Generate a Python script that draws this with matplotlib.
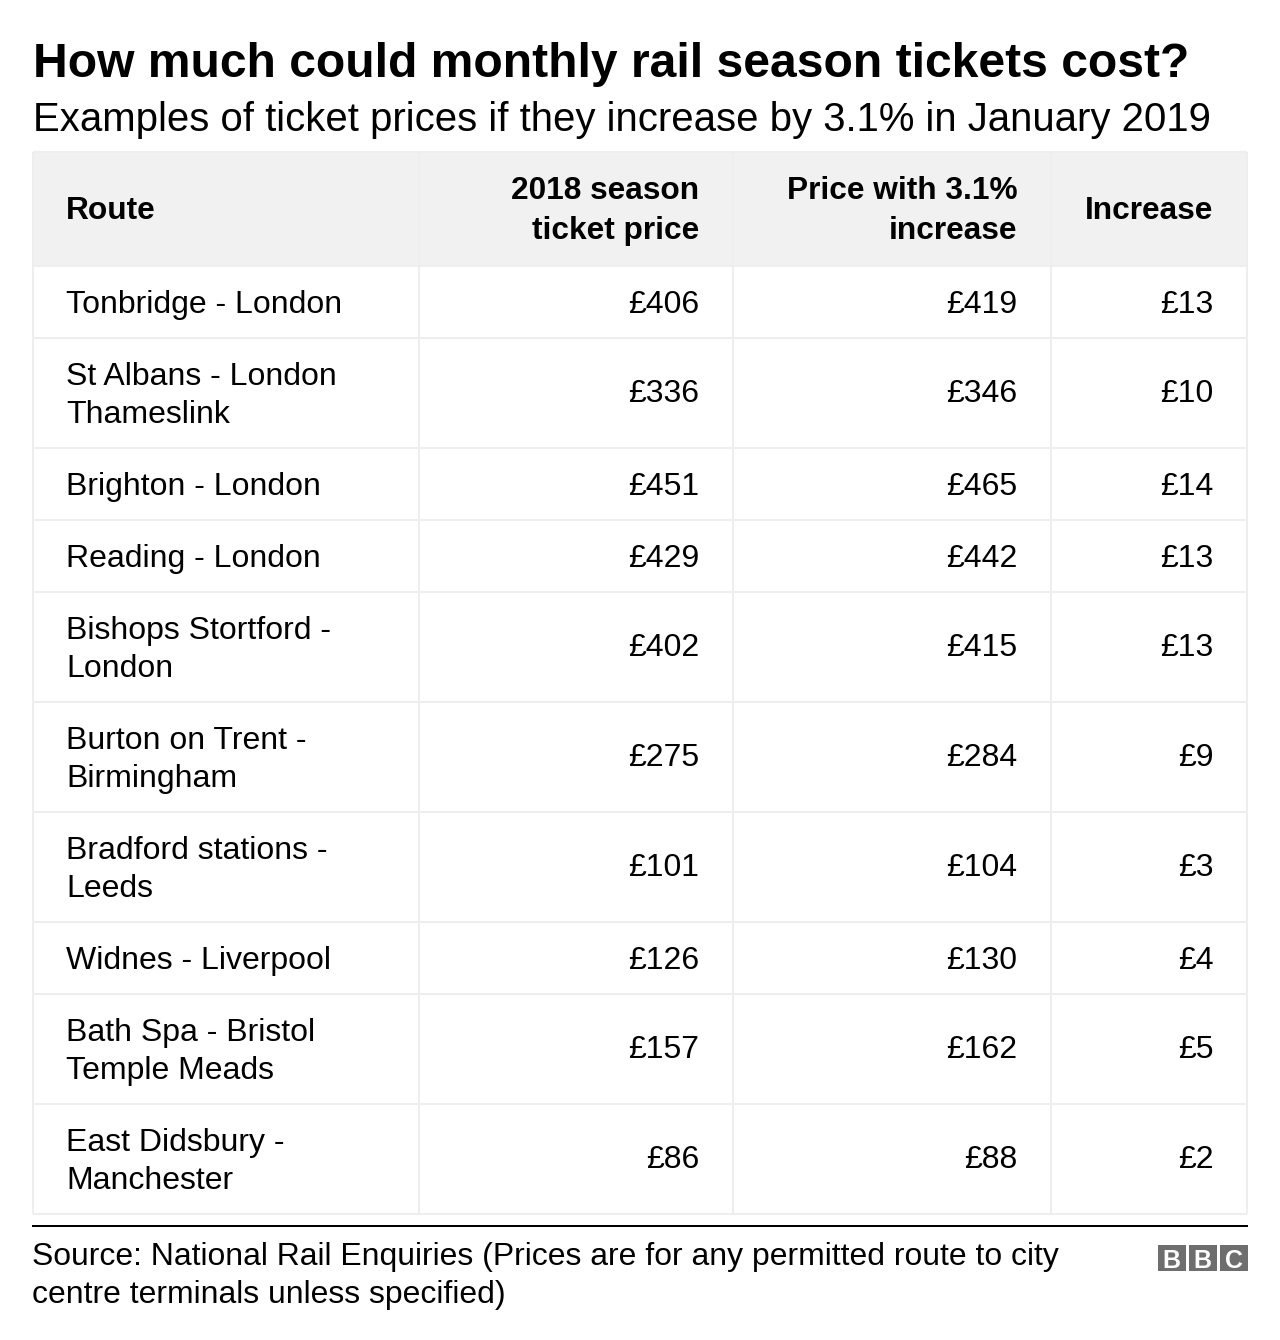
import matplotlib
matplotlib.use("Agg")
import matplotlib.pyplot as plt
from matplotlib.patches import Rectangle

plt.rcParams["font.family"] = ["Liberation Sans", "DejaVu Sans"]

title = "How much could monthly rail season tickets cost?"
subtitle = "Examples of ticket prices if they increase by 3.1% in January 2019"
source = ["Source: National Rail Enquiries (Prices are for any permitted route to city",
          "centre terminals unless specified)"]

headers = [["Route"], ["2018 season", "ticket price"], ["Price with 3.1%", "increase"], ["Increase"]]
routes = [["Tonbridge - London"],
          ["St Albans - London", "Thameslink"],
          ["Brighton - London"],
          ["Reading - London"],
          ["Bishops Stortford -", "London"],
          ["Burton on Trent -", "Birmingham"],
          ["Bradford stations -", "Leeds"],
          ["Widnes - Liverpool"],
          ["Bath Spa - Bristol", "Temple Meads"],
          ["East Didsbury -", "Manchester"]]
price_2018 = [406, 336, 451, 429, 402, 275, 101, 126, 157, 86]
price_2019 = [419, 346, 465, 442, 415, 284, 104, 130, 162, 88]
increase = [13, 10, 14, 13, 13, 9, 3, 4, 5, 2]

# 画布坐标直接按像素算，y轴向下
W, H = 1280, 1340
fig = plt.figure(figsize=(W / 100, H / 100), dpi=100)
ax = fig.add_axes([0, 0, 1, 1])
ax.set_xlim(0, W)
ax.set_ylim(H, 0)
ax.axis("off")

col_x = [33, 419, 733, 1051, 1247]
table_top = 152
header_h = 114
row_one = 72
row_two = 110
grid = "#eeeeee"
px = 0.72  # 1px 对应的线宽(pt)


def cell_lines(lines, x, cy, ha, weight="normal"):
    n = len(lines)
    size = 22.8 if weight == "bold" else 23
    for i, s in enumerate(lines):
        base = cy + 11 + (i - (n - 1) / 2) * (40 if weight == "bold" else 38)
        ax.text(x, base, s, ha=ha, va="baseline", fontsize=size, fontweight=weight, color="#000000")


# 表头
ax.add_patch(Rectangle((col_x[0], table_top), col_x[-1] - col_x[0], header_h, color="#f1f1f1", lw=0))
cell_lines(headers[0], 66, table_top + header_h / 2 - 1, "left", "bold")
for j, h in enumerate(headers[1:]):
    cell_lines(h, col_x[j + 2] - 33.5, table_top + header_h / 2 - 1, "right", "bold")

# 数据行
y = table_top + header_h
rows_y = [y]
for i, r in enumerate(routes):
    h = row_two if len(r) == 2 else row_one
    cy = y + h / 2
    cell_lines(r, 66, cy, "left")
    # 两行的行里数字略靠上
    num_y = cy - 2 if len(r) == 2 else cy
    for j, vals in enumerate([price_2018, price_2019, increase]):
        cell_lines([f"£{vals[i]}"], col_x[j + 2] - 33.5, num_y, "right")
    y += h
    rows_y.append(y)

# 网格线
for yy in [table_top] + rows_y:
    ax.plot([col_x[0], col_x[-1]], [yy, yy], color=grid, lw=2 * px, solid_capstyle="butt", zorder=1)
for xx in col_x:
    ax.plot([xx, xx], [table_top, y], color=grid, lw=2 * px, solid_capstyle="butt", zorder=1)

# 标题
ax.text(33, 77, title, ha="left", va="baseline", fontsize=34.6, fontweight="bold", color="#000000")
ax.text(33, 131, subtitle, ha="left", va="baseline", fontsize=28.9, color="#000000")

# 底部
ax.plot([32, 1248], [1225.5, 1225.5], color="#000000", lw=2 * px, solid_capstyle="butt")
ax.text(32, 1265, source[0], ha="left", va="baseline", fontsize=22.95, color="#000000")
ax.text(32, 1303, source[1], ha="left", va="baseline", fontsize=22.95, color="#000000")

# BBC 标志
for x0, letter in zip([1158, 1189, 1220], "BBC"):
    ax.add_patch(Rectangle((x0, 1245), 27.5, 26, color="#6e6e6e", lw=0))
    ax.text(x0 + 13.5, 1258.5, letter, ha="center", va="center_baseline", fontsize=18,
            fontweight="bold", color="#ffffff")

fig.savefig("out.png", dpi=100, facecolor="white")
